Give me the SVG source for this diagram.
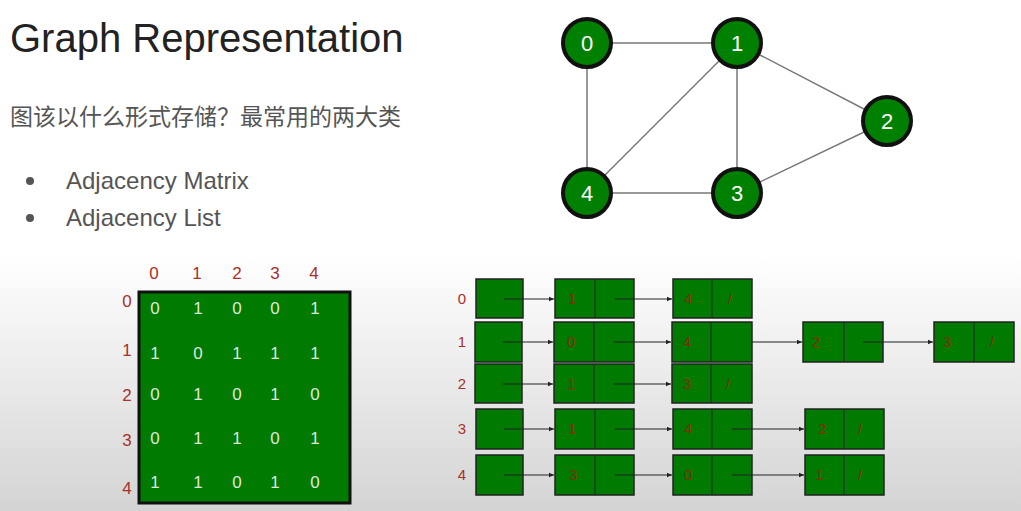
<svg xmlns="http://www.w3.org/2000/svg" width="1021" height="511" viewBox="0 0 1021 511">
<defs>
<linearGradient id="bg" x1="0" y1="0" x2="0" y2="1">
<stop offset="0" stop-color="#ffffff"/><stop offset="0.5" stop-color="#ffffff"/><stop offset="1" stop-color="#d4d4d4"/>
</linearGradient>
<marker id="ah" markerWidth="6" markerHeight="6" refX="5" refY="3" orient="auto"><path d="M0,0.8 L5,3 L0,5.2z" fill="#222"/></marker>
<style>
.t{font-family:"Liberation Sans",Arial,sans-serif}
.gn{fill:#008000;stroke:#111;stroke-width:4}
.gl{fill:#fff;font-size:22px;text-anchor:middle}
.ge{stroke:#777;stroke-width:1.5}
.b{fill:#007a00;stroke:#222;stroke-width:1.5}
.v{fill:#8a2a0a;font-size:15px}
.r{fill:#a8302a;font-size:15px;text-anchor:middle}
.m{fill:#dfe8d8;font-size:17px;text-anchor:middle}
.ml{fill:#a8302a;font-size:17px;text-anchor:middle}
.a{stroke:#222;stroke-width:1;marker-end:url(#ah)}
</style>
</defs>
<rect width="1021" height="511" fill="url(#bg)"/>
<text class="t" x="10" y="52" font-size="40" fill="#222">Graph Representation</text>
<text x="10" y="125" font-size="23" fill="#555" font-family="'Noto Sans CJK SC',sans-serif">图该以什么形式存储？最常用的两大类</text>
<circle cx="30" cy="181" r="4" fill="#555"/><circle cx="30" cy="218" r="4" fill="#555"/>
<text class="t" x="66" y="189" font-size="24" fill="#555">Adjacency Matrix</text>
<text class="t" x="66" y="226" font-size="24" fill="#555">Adjacency List</text>
<g id="edges">
<line class="ge" x1="587" y1="43" x2="737" y2="43"/><line class="ge" x1="587" y1="43" x2="587" y2="193"/>
<line class="ge" x1="737" y1="43" x2="587" y2="193"/><line class="ge" x1="737" y1="43" x2="737" y2="193"/>
<line class="ge" x1="737" y1="43" x2="887" y2="121"/><line class="ge" x1="887" y1="121" x2="737" y2="193"/>
<line class="ge" x1="587" y1="193" x2="737" y2="193"/>
</g>
<g id="n0"><circle class="gn" cx="587" cy="43" r="24"/><text class="t gl" x="587" y="51">0</text></g>
<g id="n1"><circle class="gn" cx="737" cy="43" r="24"/><text class="t gl" x="737" y="51">1</text></g>
<g id="n2"><circle class="gn" cx="887" cy="121" r="24"/><text class="t gl" x="887" y="129">2</text></g>
<g id="n3"><circle class="gn" cx="737" cy="193" r="24"/><text class="t gl" x="737" y="201">3</text></g>
<g id="n4"><circle class="gn" cx="587" cy="193" r="24"/><text class="t gl" x="587" y="201">4</text></g>
<g id="matrix" class="t">
<rect x="139" y="292" width="211" height="211" fill="#007a00" stroke="#111" stroke-width="3"/>
<text class="ml" x="154" y="279">0</text><text class="ml" x="197" y="279">1</text><text class="ml" x="237" y="279">2</text><text class="ml" x="275" y="279">3</text><text class="ml" x="314" y="279">4</text>
<text class="ml" x="127" y="307">0</text><text class="ml" x="127" y="356">1</text><text class="ml" x="127" y="401">2</text><text class="ml" x="127" y="446">3</text><text class="ml" x="127" y="494">4</text>
<text class="m" y="314"><tspan x="155">0</tspan><tspan x="198">1</tspan><tspan x="237">0</tspan><tspan x="275">0</tspan><tspan x="315">1</tspan></text>
<text class="m" y="359"><tspan x="155">1</tspan><tspan x="198">0</tspan><tspan x="237">1</tspan><tspan x="275">1</tspan><tspan x="315">1</tspan></text>
<text class="m" y="400"><tspan x="155">0</tspan><tspan x="198">1</tspan><tspan x="237">0</tspan><tspan x="275">1</tspan><tspan x="315">0</tspan></text>
<text class="m" y="444"><tspan x="155">0</tspan><tspan x="198">1</tspan><tspan x="237">1</tspan><tspan x="275">0</tspan><tspan x="315">1</tspan></text>
<text class="m" y="488"><tspan x="155">1</tspan><tspan x="198">1</tspan><tspan x="237">0</tspan><tspan x="275">1</tspan><tspan x="315">0</tspan></text>
</g>
<g id="list" class="t">
<text class="r" x="462" y="304">0</text><text class="r" x="462" y="347">1</text><text class="r" x="462" y="389">2</text><text class="r" x="462" y="434">3</text><text class="r" x="462" y="480">4</text>
<!-- row 0 -->
<rect class="b" x="476" y="279" width="47" height="39"/>
<rect class="b" x="555" y="279" width="79" height="39"/><line x1="595" y1="279" x2="595" y2="318" stroke="#222"/><text class="v" x="568" y="304">1</text>
<rect class="b" x="673" y="279" width="79" height="39"/><line x1="712" y1="279" x2="712" y2="318" stroke="#222"/><text class="v" x="684" y="304">4</text><text class="v" x="728" y="304">/</text>
<!-- row 1 -->
<rect class="b" x="475" y="322" width="47" height="40"/>
<rect class="b" x="554" y="322" width="80" height="40"/><line x1="594" y1="322" x2="594" y2="362" stroke="#222"/><text class="v" x="567" y="347">0</text>
<rect class="b" x="672" y="322" width="80" height="40"/><line x1="711" y1="322" x2="711" y2="362" stroke="#222"/><text class="v" x="683" y="347">4</text>
<rect class="b" x="803" y="322" width="80" height="40"/><line x1="844" y1="322" x2="844" y2="362" stroke="#222"/><text class="v" x="812" y="347">2</text>
<rect class="b" x="934" y="322" width="80" height="40"/><line x1="974" y1="322" x2="974" y2="362" stroke="#222"/><text class="v" x="943" y="347">3</text><text class="v" x="990" y="347">/</text>
<!-- row 2 -->
<rect class="b" x="475" y="364" width="47" height="39"/>
<rect class="b" x="554" y="364" width="80" height="39"/><line x1="594" y1="364" x2="594" y2="403" stroke="#222"/><text class="v" x="567" y="389">1</text>
<rect class="b" x="672" y="364" width="80" height="39"/><line x1="711" y1="364" x2="711" y2="403" stroke="#222"/><text class="v" x="683" y="389">3</text><text class="v" x="726" y="389">/</text>
<!-- row 3 -->
<rect class="b" x="476" y="409" width="47" height="40"/>
<rect class="b" x="555" y="409" width="79" height="40"/><line x1="595" y1="409" x2="595" y2="449" stroke="#222"/><text class="v" x="568" y="434">1</text>
<rect class="b" x="673" y="409" width="79" height="40"/><line x1="712" y1="409" x2="712" y2="449" stroke="#222"/><text class="v" x="684" y="434">4</text>
<rect class="b" x="805" y="409" width="79" height="40"/><line x1="844" y1="409" x2="844" y2="449" stroke="#222"/><text class="v" x="818" y="434">2</text><text class="v" x="858" y="434">/</text>
<!-- row 4 -->
<rect class="b" x="476" y="455" width="47" height="40"/>
<rect class="b" x="555" y="455" width="79" height="40"/><line x1="595" y1="455" x2="595" y2="495" stroke="#222"/><text class="v" x="569" y="480">3</text>
<rect class="b" x="673" y="455" width="79" height="40"/><line x1="712" y1="455" x2="712" y2="495" stroke="#222"/><text class="v" x="684" y="480">0</text>
<rect class="b" x="805" y="455" width="79" height="40"/><line x1="844" y1="455" x2="844" y2="495" stroke="#222"/><text class="v" x="815" y="480">1</text><text class="v" x="858" y="480">/</text>
</g>
<g id="connectors">
<line class="a" x1="504" y1="299" x2="554" y2="299"/><line class="a" x1="615" y1="299" x2="672" y2="299"/>
<line class="a" x1="503" y1="342" x2="553" y2="342"/><line class="a" x1="614" y1="342" x2="671" y2="342"/><line class="a" x1="752" y1="342" x2="802" y2="342"/><line class="a" x1="863" y1="342" x2="933" y2="342"/>
<line class="a" x1="503" y1="384" x2="553" y2="384"/><line class="a" x1="614" y1="384" x2="671" y2="384"/>
<line class="a" x1="504" y1="429" x2="554" y2="429"/><line class="a" x1="615" y1="429" x2="672" y2="429"/><line class="a" x1="732" y1="429" x2="804" y2="429"/>
<line class="a" x1="504" y1="475" x2="554" y2="475"/><line class="a" x1="615" y1="475" x2="672" y2="475"/><line class="a" x1="732" y1="475" x2="804" y2="475"/>
</g>
</svg>
